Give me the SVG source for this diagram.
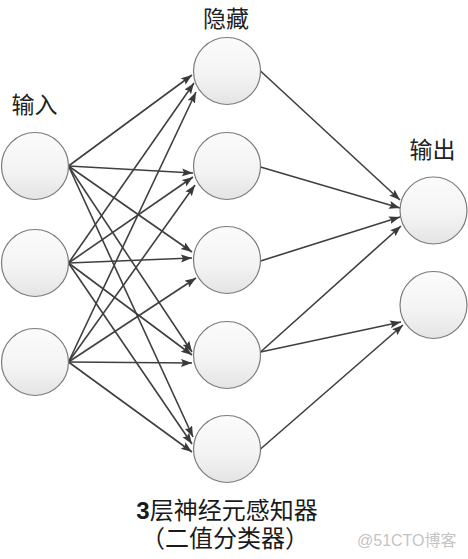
<svg xmlns="http://www.w3.org/2000/svg" width="468" height="559" viewBox="0 0 468 559">
<style>
.node{fill:url(#g);stroke:#7b7b7b;stroke-width:1.2}
.edge{stroke:#3f3f3f;stroke-width:1.6;fill:none;marker-end:url(#ah)}
.lbl{font-family:"Noto Sans CJK SC","Liberation Sans",sans-serif;font-size:23px;fill:#222;text-anchor:middle}
.cap{font-family:"Liberation Sans","Noto Sans CJK SC",sans-serif;font-size:24px;fill:#1a1a1a;text-anchor:middle}
.wm{font-family:"Liberation Sans","Noto Sans CJK SC",sans-serif;font-size:16px;fill:#c4c4c4}
</style>
<defs>
<linearGradient id="g" x1="0" y1="0" x2="0" y2="1">
<stop offset="0" stop-color="#fbfbfb"/>
<stop offset="0.55" stop-color="#f4f4f4"/>
<stop offset="1" stop-color="#e4e4e4"/>
</linearGradient>
<marker id="ah" markerUnits="userSpaceOnUse" markerWidth="12" markerHeight="9" refX="11" refY="4" orient="auto">
<path d="M0,0 L11,4 L0,8 L2,4 z" fill="#3a3a3a"/>
</marker>
</defs>
<rect width="468" height="559" fill="#fff"/>
<g id="connectors">
<line class="edge" x1="68.5" y1="166" x2="192" y2="75"/>
<line class="edge" x1="68.5" y1="263" x2="194" y2="83"/>
<line class="edge" x1="68.5" y1="362" x2="196" y2="92"/>
<line class="edge" x1="68.5" y1="166" x2="193" y2="173"/>
<line class="edge" x1="68.5" y1="263" x2="193" y2="177"/>
<line class="edge" x1="68.5" y1="362" x2="195" y2="185"/>
<line class="edge" x1="68.5" y1="166" x2="192" y2="252"/>
<line class="edge" x1="68.5" y1="263" x2="192" y2="258"/>
<line class="edge" x1="68.5" y1="362" x2="196" y2="278"/>
<line class="edge" x1="68.5" y1="166" x2="192" y2="352"/>
<line class="edge" x1="68.5" y1="263" x2="192" y2="355"/>
<line class="edge" x1="68.5" y1="362" x2="192" y2="363"/>
<line class="edge" x1="68.5" y1="166" x2="193" y2="437"/>
<line class="edge" x1="68.5" y1="263" x2="192" y2="444"/>
<line class="edge" x1="68.5" y1="362" x2="192" y2="452"/>
<line class="edge" x1="260.5" y1="71" x2="400" y2="200"/>
<line class="edge" x1="260.5" y1="167" x2="400" y2="208"/>
<line class="edge" x1="260.5" y1="261" x2="400" y2="217"/>
<line class="edge" x1="260.5" y1="352" x2="401" y2="226"/>
<line class="edge" x1="260.5" y1="352" x2="401" y2="322"/>
<line class="edge" x1="260.5" y1="449" x2="403" y2="325"/>
</g>
<g id="in1"><circle class="node" cx="35" cy="166" r="33.5"/></g>
<g id="in2"><circle class="node" cx="35" cy="263" r="33.5"/></g>
<g id="in3"><circle class="node" cx="35" cy="362" r="33.5"/></g>
<g id="h1"><circle class="node" cx="227" cy="71" r="33.5"/></g>
<g id="h2"><circle class="node" cx="227" cy="166" r="33.5"/></g>
<g id="h3"><circle class="node" cx="227" cy="260" r="33.5"/></g>
<g id="h4"><circle class="node" cx="227" cy="355" r="33.5"/></g>
<g id="h5"><circle class="node" cx="227" cy="449" r="33.5"/></g>
<g id="o1"><circle class="node" cx="433.5" cy="210.5" r="33.5"/></g>
<g id="o2"><circle class="node" cx="433.5" cy="305" r="33.5"/></g>
<g id="labels">
<text class="lbl" x="226" y="27" font-size="22">隐藏</text>
<text class="lbl" x="34.5" y="113">输入</text>
<text class="lbl" x="432.5" y="158">输出</text>
<text class="cap" x="227" y="519"><tspan font-weight="bold">3</tspan>层神经元感知器</text>
<text class="cap" x="225" y="547">（二值分类器）</text>
<text class="wm" x="357" y="546">@51CTO博客</text>
</g>
</svg>
